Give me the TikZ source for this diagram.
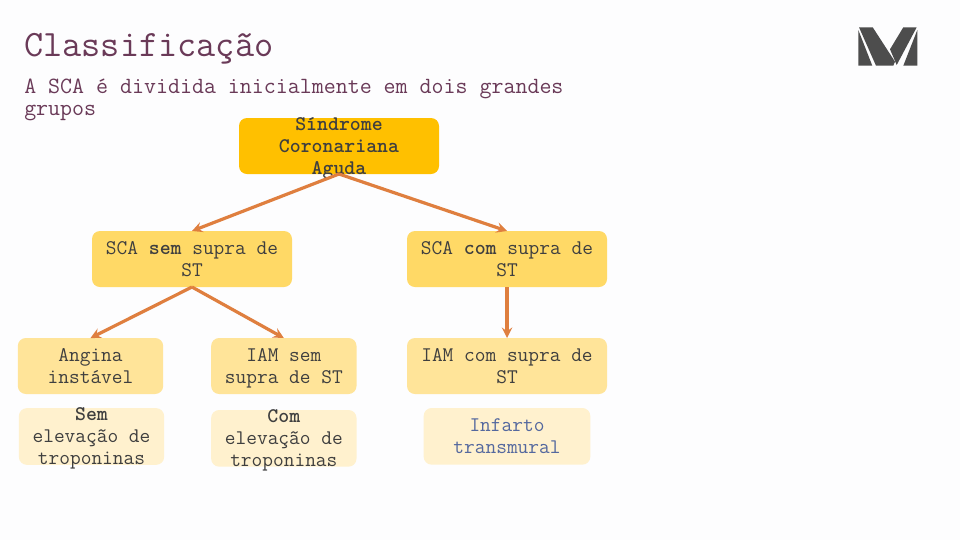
\documentclass[tikz,border=0pt]{standalone}
\usetikzlibrary{arrows,positioning}
\definecolor{pagebg}{HTML}{FDFDFE}
\definecolor{titlecol}{HTML}{6A3A58}
\definecolor{boxtext}{HTML}{3F3F3F}
\definecolor{arrowcol}{HTML}{DF7F3F}
\definecolor{logocol}{HTML}{4D4D4D}
\tikzset{box/.style={rectangle, rounded corners=6pt, outer sep=0pt, inner xsep=0pt, inner ysep=-8pt, minimum width=150pt, minimum height=42pt, align=center, text=boxtext, font=\fontsize{15.6}{16.5}\selectfont\ttfamily},
  topbox/.style={box, fill={rgb,255:red,255;green,192;blue,0}, font=\fontsize{15.6}{16.5}\selectfont\ttfamily\bfseries},
  midbox/.style={box, fill={rgb,255:red,255;green,217;blue,102}},
  lowbox/.style={box, fill={rgb,255:red,255;green,228;blue,153}, minimum width=109pt},
  palebox/.style={box, fill={rgb,255:red,255;green,241;blue,206}, minimum width=109pt, minimum height=42.5pt},
  link/.style={-stealth, draw=arrowcol, line width=2.4pt}}

\begin{document}
\begin{tikzpicture}[x=0.75pt,y=-0.75pt]
    \useasboundingbox (0,0) rectangle (960,540);
    \fill[pagebg] (0,0) rectangle (960,540);
    % header
    \node[anchor=west, inner sep=0pt, text=titlecol, font=\fontsize{27.9}{30}\selectfont\ttfamily] (title) at (24,48.5) {Classificação};
    \node[anchor=north west, inner sep=0pt, align=left, text=titlecol, font=\fontsize{17.45}{16.5}\selectfont\ttfamily] (intro) at (24,79) {A SCA é dividida inicialmente em dois grandes\\grupos};
    % logo
    \fill[logocol] (859,27.3) -- (872.7,27.3) -- (895,61.7) -- (893.3,65.7) -- (876,65.7) -- cycle;
    \fill[logocol] (858.3,30) -- (872.3,65.7) -- (858.3,65.7) -- cycle;
    \fill[logocol] (890,49.3) -- (903.3,27.3) -- (916.7,27.3) -- (896.7,65) -- cycle;
    \fill[logocol] (917.3,30) -- (917.3,65.7) -- (903.3,65.7) -- cycle;
    % boxes
    \node[topbox] (SCA) at (339,146) {Síndrome\\Coronariana\\\smash{Aguda}};
    \node[midbox] (SSEM) at (192,259) {SCA \textbf{sem} supra de\\ST};
    \node[midbox, right=86.25pt of SSEM] (SCOM) {SCA \textbf{com} supra de\\ST};
    \node[lowbox] (ANG) at (90.5,366) {Angina\\instável};
    \node[lowbox, right=36pt of ANG] (IAMS) {IAM sem\\\smash{supra de ST}};
    \node[lowbox, minimum width=150pt, below=38.25pt of SCOM] (IAMC) {IAM com supra de\\ST};
    \node[palebox] (SEM) at (91.5,436.5) {\textbf{Sem}\\elevação de\\\smash{troponinas}};
    \node[palebox, below=12pt of IAMS] (COM) {\textbf{Com}\\elevação de\\\smash{troponinas}};
    \node[palebox, minimum width=125pt, below=10.5pt of IAMC, text={rgb,255:red,84;green,104;blue,158}] (INF) {Infarto\\transmural};
    % links
    \draw[link] (SCA.south) -- (SSEM.north);
    \draw[link] (SCA.south) -- (SCOM.north);
    \draw[link] (SSEM.south) -- (ANG.north);
    \draw[link] (SSEM.south) -- (IAMS.north);
    \draw[link] (SCOM.south) -- (IAMC.north);
\end{tikzpicture}
\end{document}
